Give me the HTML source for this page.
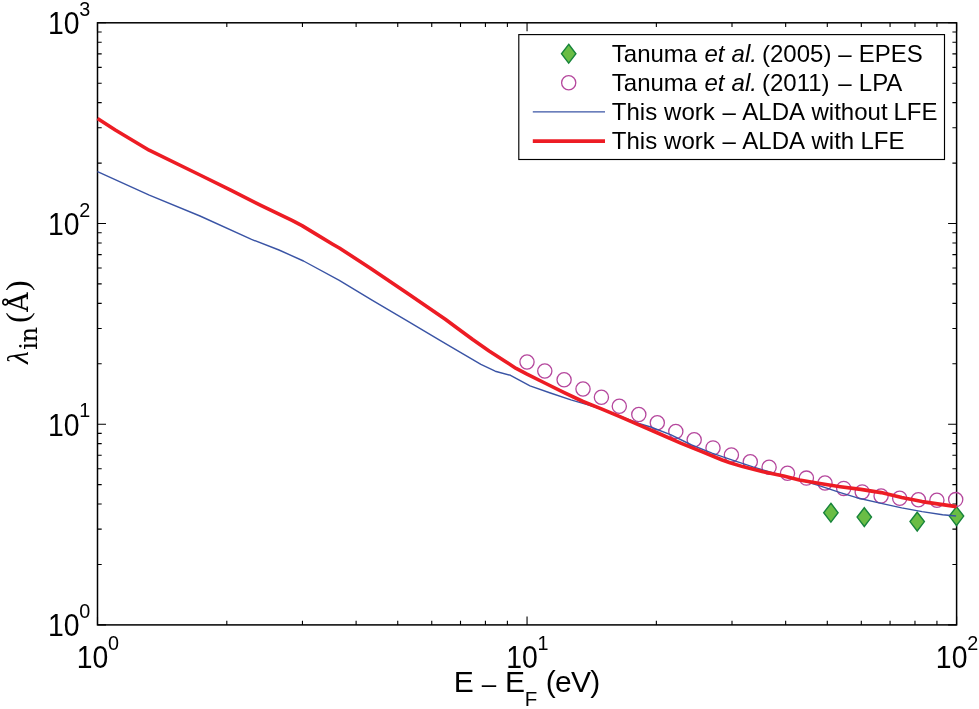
<!DOCTYPE html>
<html><head><meta charset="utf-8"><title>IMFP plot</title>
<style>
html,body{margin:0;padding:0;background:#fff;}
body{width:979px;height:709px;overflow:hidden;}
svg{display:block;}
text{font-family:"Liberation Sans",Arial,Helvetica,sans-serif;fill:#000;}
.t{font-size:30px;}
.e{font-size:20px;}
.l{font-size:24px;}
.m{font-family:"Liberation Serif","DejaVu Serif",serif;}
</style></head><body>
<svg width="979" height="709" viewBox="0 0 979 709">
<rect width="979" height="709" fill="#fff"/>
<path d="M97.50 624.90v-8.5M97.50 22.80v8.5M226.81 624.90v-4.2M226.81 22.80v4.2M302.45 624.90v-4.2M302.45 22.80v4.2M356.11 624.90v-4.2M356.11 22.80v4.2M397.74 624.90v-4.2M397.74 22.80v4.2M431.75 624.90v-4.2M431.75 22.80v4.2M460.51 624.90v-4.2M460.51 22.80v4.2M485.42 624.90v-4.2M485.42 22.80v4.2M507.39 624.90v-4.2M507.39 22.80v4.2M527.05 624.90v-8.5M527.05 22.80v8.5M656.36 624.90v-4.2M656.36 22.80v4.2M732.00 624.90v-4.2M732.00 22.80v4.2M785.66 624.90v-4.2M785.66 22.80v4.2M827.29 624.90v-4.2M827.29 22.80v4.2M861.30 624.90v-4.2M861.30 22.80v4.2M890.06 624.90v-4.2M890.06 22.80v4.2M914.97 624.90v-4.2M914.97 22.80v4.2M936.94 624.90v-4.2M936.94 22.80v4.2M97.50 624.90h8.5M956.60 624.90h-8.5M97.50 564.48h4.2M956.60 564.48h-4.2M97.50 529.14h4.2M956.60 529.14h-4.2M97.50 504.07h4.2M956.60 504.07h-4.2M97.50 484.62h4.2M956.60 484.62h-4.2M97.50 468.73h4.2M956.60 468.73h-4.2M97.50 455.29h4.2M956.60 455.29h-4.2M97.50 443.65h4.2M956.60 443.65h-4.2M97.50 433.38h4.2M956.60 433.38h-4.2M97.50 424.20h8.5M956.60 424.20h-8.5M97.50 363.78h4.2M956.60 363.78h-4.2M97.50 328.44h4.2M956.60 328.44h-4.2M97.50 303.37h4.2M956.60 303.37h-4.2M97.50 283.92h4.2M956.60 283.92h-4.2M97.50 268.03h4.2M956.60 268.03h-4.2M97.50 254.59h4.2M956.60 254.59h-4.2M97.50 242.95h4.2M956.60 242.95h-4.2M97.50 232.68h4.2M956.60 232.68h-4.2M97.50 223.50h8.5M956.60 223.50h-8.5M97.50 163.08h4.2M956.60 163.08h-4.2M97.50 127.74h4.2M956.60 127.74h-4.2M97.50 102.67h4.2M956.60 102.67h-4.2M97.50 83.22h4.2M956.60 83.22h-4.2M97.50 67.33h4.2M956.60 67.33h-4.2M97.50 53.89h4.2M956.60 53.89h-4.2M97.50 42.25h4.2M956.60 42.25h-4.2M97.50 31.98h4.2M956.60 31.98h-4.2M97.50 22.80h8.5M956.60 22.80h-8.5M956.60 624.90v-8.5M956.60 22.80v8.5" stroke="#000" stroke-width="1.1" fill="none"/>
<rect x="97.50" y="22.80" width="859.10" height="602.10" fill="none" stroke="#000" stroke-width="1.5"/>
<path d="M830.9 503.3 L838.1 512.7 L830.9 522.1 L823.7 512.7Z" fill="#6abd45" stroke="#17843b" stroke-width="1.4" stroke-linejoin="miter"/>
<path d="M864.3 507.7 L871.5 517.1 L864.3 526.5 L857.1 517.1Z" fill="#6abd45" stroke="#17843b" stroke-width="1.4" stroke-linejoin="miter"/>
<path d="M917.2 512.2 L924.4 521.6 L917.2 531.0 L910.0 521.6Z" fill="#6abd45" stroke="#17843b" stroke-width="1.4" stroke-linejoin="miter"/>
<path d="M956.5 506.7 L963.7 516.1 L956.5 525.5 L949.3 516.1Z" fill="#6abd45" stroke="#17843b" stroke-width="1.4" stroke-linejoin="miter"/>
<circle cx="527.0" cy="362.0" r="7.1" fill="none" stroke="#b5479d" stroke-width="1.3"/>
<circle cx="544.8" cy="371.0" r="7.1" fill="none" stroke="#b5479d" stroke-width="1.3"/>
<circle cx="564.1" cy="379.8" r="7.1" fill="none" stroke="#b5479d" stroke-width="1.3"/>
<circle cx="583.0" cy="389.0" r="7.1" fill="none" stroke="#b5479d" stroke-width="1.3"/>
<circle cx="601.4" cy="397.2" r="7.1" fill="none" stroke="#b5479d" stroke-width="1.3"/>
<circle cx="619.3" cy="406.3" r="7.1" fill="none" stroke="#b5479d" stroke-width="1.3"/>
<circle cx="638.8" cy="414.5" r="7.1" fill="none" stroke="#b5479d" stroke-width="1.3"/>
<circle cx="657.3" cy="422.7" r="7.1" fill="none" stroke="#b5479d" stroke-width="1.3"/>
<circle cx="675.8" cy="431.5" r="7.1" fill="none" stroke="#b5479d" stroke-width="1.3"/>
<circle cx="694.2" cy="439.7" r="7.1" fill="none" stroke="#b5479d" stroke-width="1.3"/>
<circle cx="713.0" cy="447.9" r="7.1" fill="none" stroke="#b5479d" stroke-width="1.3"/>
<circle cx="731.4" cy="455.0" r="7.1" fill="none" stroke="#b5479d" stroke-width="1.3"/>
<circle cx="750.3" cy="461.8" r="7.1" fill="none" stroke="#b5479d" stroke-width="1.3"/>
<circle cx="769.1" cy="467.3" r="7.1" fill="none" stroke="#b5479d" stroke-width="1.3"/>
<circle cx="787.5" cy="473.3" r="7.1" fill="none" stroke="#b5479d" stroke-width="1.3"/>
<circle cx="806.4" cy="478.1" r="7.1" fill="none" stroke="#b5479d" stroke-width="1.3"/>
<circle cx="825.0" cy="483.0" r="7.1" fill="none" stroke="#b5479d" stroke-width="1.3"/>
<circle cx="843.7" cy="488.4" r="7.1" fill="none" stroke="#b5479d" stroke-width="1.3"/>
<circle cx="862.2" cy="491.9" r="7.1" fill="none" stroke="#b5479d" stroke-width="1.3"/>
<circle cx="881.1" cy="496.0" r="7.1" fill="none" stroke="#b5479d" stroke-width="1.3"/>
<circle cx="899.7" cy="498.2" r="7.1" fill="none" stroke="#b5479d" stroke-width="1.3"/>
<circle cx="918.4" cy="499.8" r="7.1" fill="none" stroke="#b5479d" stroke-width="1.3"/>
<circle cx="936.9" cy="500.3" r="7.1" fill="none" stroke="#b5479d" stroke-width="1.3"/>
<circle cx="955.7" cy="499.6" r="7.1" fill="none" stroke="#b5479d" stroke-width="1.3"/>
<polyline points="97.5,171.6 149.3,195.1 200.0,216.0 251.5,239.4 279.0,250.0 303.5,261.0 339.3,280.3 372.0,300.2 406.8,320.7 440.0,340.3 460.4,352.3 480.9,364.4 495.2,371.2 510.5,375.3 530.0,385.9 550.4,393.0 570.9,399.8 587.2,404.7 603.6,409.8 624.0,417.7 638.8,423.5 650.7,427.0 671.1,434.8 691.6,445.0 712.0,453.2 732.5,460.2 752.9,466.9 773.4,473.0 799.0,479.7 819.9,485.8 840.3,492.6 856.7,497.7 881.2,503.4 901.7,507.9 922.1,511.6 942.6,514.8 956.1,516.0" fill="none" stroke="#3a54a5" stroke-width="1.4" stroke-linejoin="round"/>
<polyline points="97.5,118.6 115.3,130.0 149.1,150.2 200.0,175.0 230.7,190.2 261.3,205.6 292.0,220.4 302.0,225.6 316.4,234.4 332.7,244.2 339.3,248.0 370.0,267.9 407.0,293.1 445.3,319.3 456.4,327.5 472.7,339.5 489.1,350.9 505.4,361.5 516.1,368.4 527.0,374.2 544.8,383.0 564.2,392.6 583.0,401.5 601.4,408.8 619.3,416.4 638.8,424.8 660.0,434.0 681.3,443.3 701.8,451.6 722.2,460.0 730.0,462.8 742.7,466.6 763.1,471.8 783.6,476.0 799.4,480.1 819.9,483.6 840.3,486.7 860.8,489.4 881.2,492.6 901.7,497.5 922.1,501.6 942.6,504.6 956.5,506.6" fill="none" stroke="#ed1c24" stroke-width="3.6" stroke-linejoin="round"/>
<rect x="518.8" y="34.6" width="425.7" height="124.9" fill="#fff" stroke="#000" stroke-width="1.15"/>
<path d="M568.7 44.3 L575.9 53.7 L568.7 63.1 L561.5 53.7Z" fill="#6abd45" stroke="#17843b" stroke-width="1.4" stroke-linejoin="miter"/>
<circle cx="568.7" cy="82.7" r="7.1" fill="none" stroke="#b5479d" stroke-width="1.3"/>
<path d="M532.8 111.9H605" stroke="#3a54a5" stroke-width="1.4"/>
<path d="M532.8 141.1H605" stroke="#ed1c24" stroke-width="3.6"/>
<text class="l" y="62.3" xml:space="preserve"><tspan x="611.8">Tanuma </tspan><tspan x="704.4" font-style="italic">et </tspan><tspan x="731.6" font-style="italic">al. </tspan><tspan x="762.0">(2005) </tspan><tspan x="838.2">– </tspan><tspan x="858.8">EPES</tspan></text>
<text class="l" y="91.2" xml:space="preserve"><tspan x="611.8">Tanuma </tspan><tspan x="704.4" font-style="italic">et </tspan><tspan x="731.6" font-style="italic">al. </tspan><tspan x="762.0">(2011) </tspan><tspan x="838.2">– </tspan><tspan x="858.8">LPA</tspan></text>
<text class="l" y="120.0" xml:space="preserve"><tspan x="611.8">This </tspan><tspan x="664.1">work </tspan><tspan x="722.6">– </tspan><tspan x="742.3">ALDA </tspan><tspan x="811.5">without </tspan><tspan x="893.5">LFE</tspan></text>
<text class="l" y="148.9" xml:space="preserve"><tspan x="611.8">This </tspan><tspan x="664.1">work </tspan><tspan x="722.6">– </tspan><tspan x="742.3">ALDA </tspan><tspan x="811.5">with </tspan><tspan x="860.4">LFE</tspan></text>
<text transform="translate(47.96 34.10) scale(0.93 1)" font-size="30.5px">10</text><text x="79.25" y="15.80" font-size="19.8px">3</text>
<text transform="translate(47.96 234.80) scale(0.93 1)" font-size="30.5px">10</text><text x="79.25" y="216.50" font-size="19.8px">2</text>
<text transform="translate(47.96 435.50) scale(0.93 1)" font-size="30.5px">10</text><text x="79.25" y="417.20" font-size="19.8px">1</text>
<text transform="translate(47.96 636.20) scale(0.93 1)" font-size="30.5px">10</text><text x="79.25" y="617.90" font-size="19.8px">0</text>
<text transform="translate(76.76 668.10) scale(0.93 1)" font-size="30.5px">10</text><text x="108.05" y="649.80" font-size="19.8px">0</text>
<text transform="translate(506.31 668.10) scale(0.93 1)" font-size="30.5px">10</text><text x="537.60" y="649.80" font-size="19.8px">1</text>
<text transform="translate(935.86 668.10) scale(0.93 1)" font-size="30.5px">10</text><text x="967.15" y="649.80" font-size="19.8px">2</text>
<text class="t" y="692.4"><tspan x="453.7">E</tspan><tspan x="481.7" dy="0.7" font-size="26px">–</tspan><tspan x="505.0" dy="-0.7">E</tspan><tspan x="524.8" dy="14" font-size="20.5px">F</tspan><tspan x="545.7" dy="-14" letter-spacing="-0.7">(eV)</tspan></text>
<text transform="translate(28.2 364.0) rotate(-90)" style='font-family:"Liberation Serif","DejaVu Serif",serif' font-size="29.7px" font-style="italic">λ</text>
<text transform="translate(37.2 349.8) rotate(-90)" style='font-family:"DejaVu Serif","Liberation Serif",serif' font-size="24.4px" letter-spacing="-0.6">in</text>
<text transform="translate(28.2 322.9) rotate(-90)" style='font-family:"Liberation Serif","DejaVu Serif",serif' font-size="32.3px">(</text>
<text transform="translate(28.2 311.7) rotate(-90) scale(0.94 1)" style='font-family:"DejaVu Serif","Liberation Serif",serif' font-size="28.5px">Å</text>
<text transform="translate(28.2 290.9) rotate(-90)" style='font-family:"Liberation Serif","DejaVu Serif",serif' font-size="32.3px">)</text>
</svg></body></html>
